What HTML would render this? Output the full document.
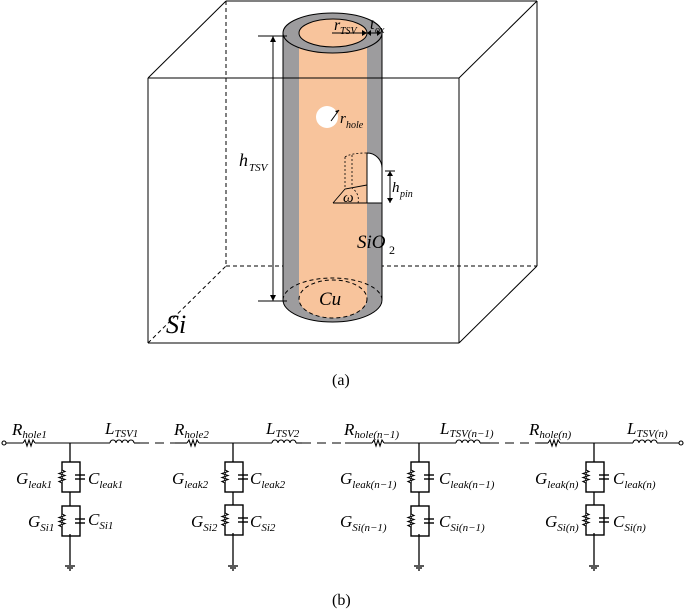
<!DOCTYPE html>
<html><head><style>body{margin:0;background:#fff}svg{display:block}text{font-family:"Liberation Serif",serif;font-style:italic;fill:#000}text.n{font-style:normal}</style></head><body>
<svg width="685" height="613" viewBox="0 0 685 613" xmlns="http://www.w3.org/2000/svg">
<defs>
<g id="res"><path d="M0,0 l2,-3 l2,6 l2,-6 l2,6 l2,-6 l2,3" fill="none" stroke="#000" stroke-width="1.1"/></g>
<g id="ind"><path d="M0,0 a3,3 0 0 1 6,0 a3,3 0 0 1 6,0 a3,3 0 0 1 6,0 a3,3 0 0 1 6,0" fill="none" stroke="#000" stroke-width="1.1"/></g>
<g id="par" fill="none" stroke="#000" stroke-width="1.4">
<rect x="-8" y="0" width="18" height="30"/>
<path d="M-8,8 l3,1.5 l-6,2 l6,2 l-6,2 l6,2 l-6,2 l3,1.5" stroke-width="1.1" fill="#fff"/>
<line x1="5" y1="13" x2="15" y2="13"/><line x1="5" y1="17" x2="15" y2="17"/>
</g>
<g id="gnd" stroke="#000" stroke-width="1.3"><line x1="-5" y1="0" x2="5" y2="0"/><line x1="-3" y1="2" x2="3" y2="2"/><line x1="-1" y1="4" x2="1" y2="4"/></g>
</defs>
<g fill="none" stroke="#000" stroke-width="1">
<line x1="226" y1="1" x2="537" y2="1"/><line x1="537" y1="1" x2="537" y2="266"/>
<line x1="226" y1="1" x2="226" y2="266" stroke-dasharray="4,3"/>
<line x1="226" y1="266" x2="537" y2="266" stroke-dasharray="4,3"/>
<line x1="148" y1="343" x2="226" y2="266" stroke-dasharray="4,3"/>
<line x1="148" y1="78" x2="226" y2="1"/><line x1="459" y1="78" x2="537" y2="1"/><line x1="459" y1="343" x2="537" y2="266"/>
</g>
<path d="M283,33 L283,300 A49.5,22 0 0 0 382,300 L382,33 Z" fill="#9d9c9e" stroke="#000" stroke-width="1"/>
<rect x="299" y="33" width="68" height="267" fill="#f8c49c"/>
<ellipse cx="333" cy="299" rx="34" ry="19" fill="#f8c49c" stroke="#000" stroke-dasharray="4,3"/>
<path d="M283,300 A49.5,22 0 0 1 382,300" fill="none" stroke="#000" stroke-dasharray="4,3"/>
<ellipse cx="332.5" cy="33" rx="49.5" ry="20" fill="#9d9c9e" stroke="#000"/>
<ellipse cx="333" cy="33" rx="34" ry="14" fill="#f8c49c" stroke="#000"/>
<g fill="none" stroke="#000" stroke-width="1"><line x1="148" y1="78" x2="459" y2="78"/><line x1="148" y1="78" x2="148" y2="343"/><line x1="459" y1="78" x2="459" y2="343"/><line x1="148" y1="343" x2="459" y2="343"/></g>
<circle cx="327" cy="117" r="11" fill="#fff"/>
<line x1="331" y1="121" x2="339" y2="110" stroke="#000"/><path d="M339,110 l-4,1 l2,2 z"/>
<text x="340" y="123" font-size="15">r</text><text x="346" y="128" font-size="10">hole</text>
<path d="M367,153 A15,15 0 0 1 382,168 L382,203 L367,203 Z" fill="#fff" stroke="#000"/>
<path d="M345,157 L345,188 M352,155 L352,185 M345,157 A22,6 0 0 1 367,153" fill="none" stroke="#000" stroke-dasharray="2,2" stroke-width=".8"/>
<line x1="333" y1="203" x2="367" y2="203" stroke="#000"/>
<path d="M333,203 L345,189 L367,185" fill="none" stroke="#000" stroke-width=".9"/>
<path d="M358,203 A14,14 0 0 0 352,188" fill="none" stroke="#000" stroke-dasharray="2,2" stroke-width=".8"/>
<text x="343" y="202" font-size="15">ω</text>
<line x1="385" y1="171" x2="395" y2="171" stroke="#000"/>
<line x1="390" y1="171" x2="390" y2="203" stroke="#000"/><path d="M390,171 l-3,5 h6z M390,203 l-3,-5 h6z"/>
<text x="392" y="192" font-size="15">h</text><text x="400" y="197" font-size="10">pin</text>
<line x1="332" y1="33" x2="365" y2="33" stroke="#000"/><path d="M367,33 l-5,-3 v6z"/>
<line x1="367" y1="33" x2="381" y2="33" stroke="#000"/><path d="M381,33 l-4,-3 v6z M367,33 l4,-3 v6z"/>
<text x="334" y="30" font-size="16">r</text><text x="340" y="34" font-size="10">TSV</text>
<text x="370" y="29" font-size="16">t</text><text x="375" y="33" font-size="10">ox</text>
<line x1="258" y1="36" x2="287" y2="36" stroke="#000"/><line x1="258" y1="301" x2="287" y2="301" stroke="#000"/>
<line x1="273" y1="36" x2="273" y2="301" stroke="#000"/><path d="M273,36 l-3,6 h6z M273,301 l-3,-6 h6z"/>
<text x="239" y="166" font-size="18">h</text><text x="249" y="171" font-size="11">TSV</text>
<text x="357" y="248" font-size="19">SiO</text><text x="389" y="254" font-size="12" class="n">2</text>
<text x="319" y="305" font-size="19">Cu</text>
<text x="166" y="333" font-size="26">Si</text>
<text x="332" y="385" font-size="16" class="n">(a)</text>
<text x="332" y="605" font-size="16" class="n">(b)</text>
<g stroke="#000" stroke-width="1.1" fill="none">
<circle cx="4" cy="443" r="2"/><circle cx="681" cy="443" r="2"/>
<line x1="6" y1="443" x2="23" y2="443"/><line x1="35" y1="443" x2="110" y2="443"/><line x1="134" y1="443" x2="140" y2="443"/>
<line x1="140" y1="443" x2="175" y2="443" stroke-dasharray="9,6"/>
<line x1="175" y1="443" x2="187" y2="443"/><line x1="199" y1="443" x2="272" y2="443"/><line x1="296" y1="443" x2="302" y2="443"/>
<line x1="302" y1="443" x2="345" y2="443" stroke-dasharray="9,6"/>
<line x1="345" y1="443" x2="372" y2="443"/><line x1="384" y1="443" x2="456" y2="443"/><line x1="480" y1="443" x2="490" y2="443"/>
<line x1="490" y1="443" x2="537" y2="443" stroke-dasharray="9,6"/>
<line x1="537" y1="443" x2="548" y2="443"/><line x1="560" y1="443" x2="633" y2="443"/><line x1="657" y1="443" x2="679" y2="443"/>
</g>
<use href="#res" x="23" y="443"/><use href="#ind" x="110" y="443"/>
<use href="#res" x="187" y="443"/><use href="#ind" x="272" y="443"/>
<use href="#res" x="372" y="443"/><use href="#ind" x="456" y="443"/>
<use href="#res" x="548" y="443"/><use href="#ind" x="633" y="443"/>
<g stroke="#000" stroke-width="1.3" fill="none">
<path d="M70,443 V462 M70,492 V506 M70,534 V565"/>
<path d="M233,443 V462 M233,492 V505 M233,533 V565"/>
<path d="M419,443 V462 M419,492 V506 M419,534 V565"/>
<path d="M594,443 V462 M594,492 V505 M594,533 V565"/>
</g>
<use href="#par" x="70" y="462"/><use href="#par" x="70" y="506"/>
<use href="#par" x="233" y="462"/><use href="#par" x="233" y="505"/>
<use href="#par" x="419" y="462"/><use href="#par" x="419" y="506"/>
<use href="#par" x="594" y="462"/><use href="#par" x="594" y="505"/>
<use href="#gnd" x="70" y="566"/><use href="#gnd" x="233" y="566"/><use href="#gnd" x="419" y="566"/><use href="#gnd" x="594" y="566"/>
<g font-size="17">
<text x="12" y="435">R<tspan font-size="11" dy="3">hole1</tspan></text>
<text x="105" y="434">L<tspan font-size="11" dy="3">TSV1</tspan></text>
<text x="174" y="435">R<tspan font-size="11" dy="3">hole2</tspan></text>
<text x="266" y="434">L<tspan font-size="11" dy="3">TSV2</tspan></text>
<text x="344" y="435">R<tspan font-size="11" dy="3">hole(n−1)</tspan></text>
<text x="440" y="434">L<tspan font-size="11" dy="3">TSV(n−1)</tspan></text>
<text x="529" y="435">R<tspan font-size="11" dy="3">hole(n)</tspan></text>
<text x="627" y="434">L<tspan font-size="11" dy="3">TSV(n)</tspan></text>
<text x="16" y="484">G<tspan font-size="11" dy="4">leak1</tspan></text>
<text x="88" y="484">C<tspan font-size="11" dy="4">leak1</tspan></text>
<text x="28" y="527">G<tspan font-size="11" dy="4">Si1</tspan></text>
<text x="88" y="525">C<tspan font-size="11" dy="4">Si1</tspan></text>
<text x="172" y="484">G<tspan font-size="11" dy="4">leak2</tspan></text>
<text x="250" y="484">C<tspan font-size="11" dy="4">leak2</tspan></text>
<text x="191" y="527">G<tspan font-size="11" dy="4">Si2</tspan></text>
<text x="250" y="527">C<tspan font-size="11" dy="4">Si2</tspan></text>
<text x="340" y="484">G<tspan font-size="11" dy="4">leak(n−1)</tspan></text>
<text x="439" y="484">C<tspan font-size="11" dy="4">leak(n−1)</tspan></text>
<text x="340" y="527">G<tspan font-size="11" dy="4">Si(n−1)</tspan></text>
<text x="439" y="527">C<tspan font-size="11" dy="4">Si(n−1)</tspan></text>
<text x="535" y="484">G<tspan font-size="11" dy="4">leak(n)</tspan></text>
<text x="613" y="484">C<tspan font-size="11" dy="4">leak(n)</tspan></text>
<text x="545" y="527">G<tspan font-size="11" dy="4">Si(n)</tspan></text>
<text x="613" y="527">C<tspan font-size="11" dy="4">Si(n)</tspan></text>
</g>
</svg>
</body></html>
